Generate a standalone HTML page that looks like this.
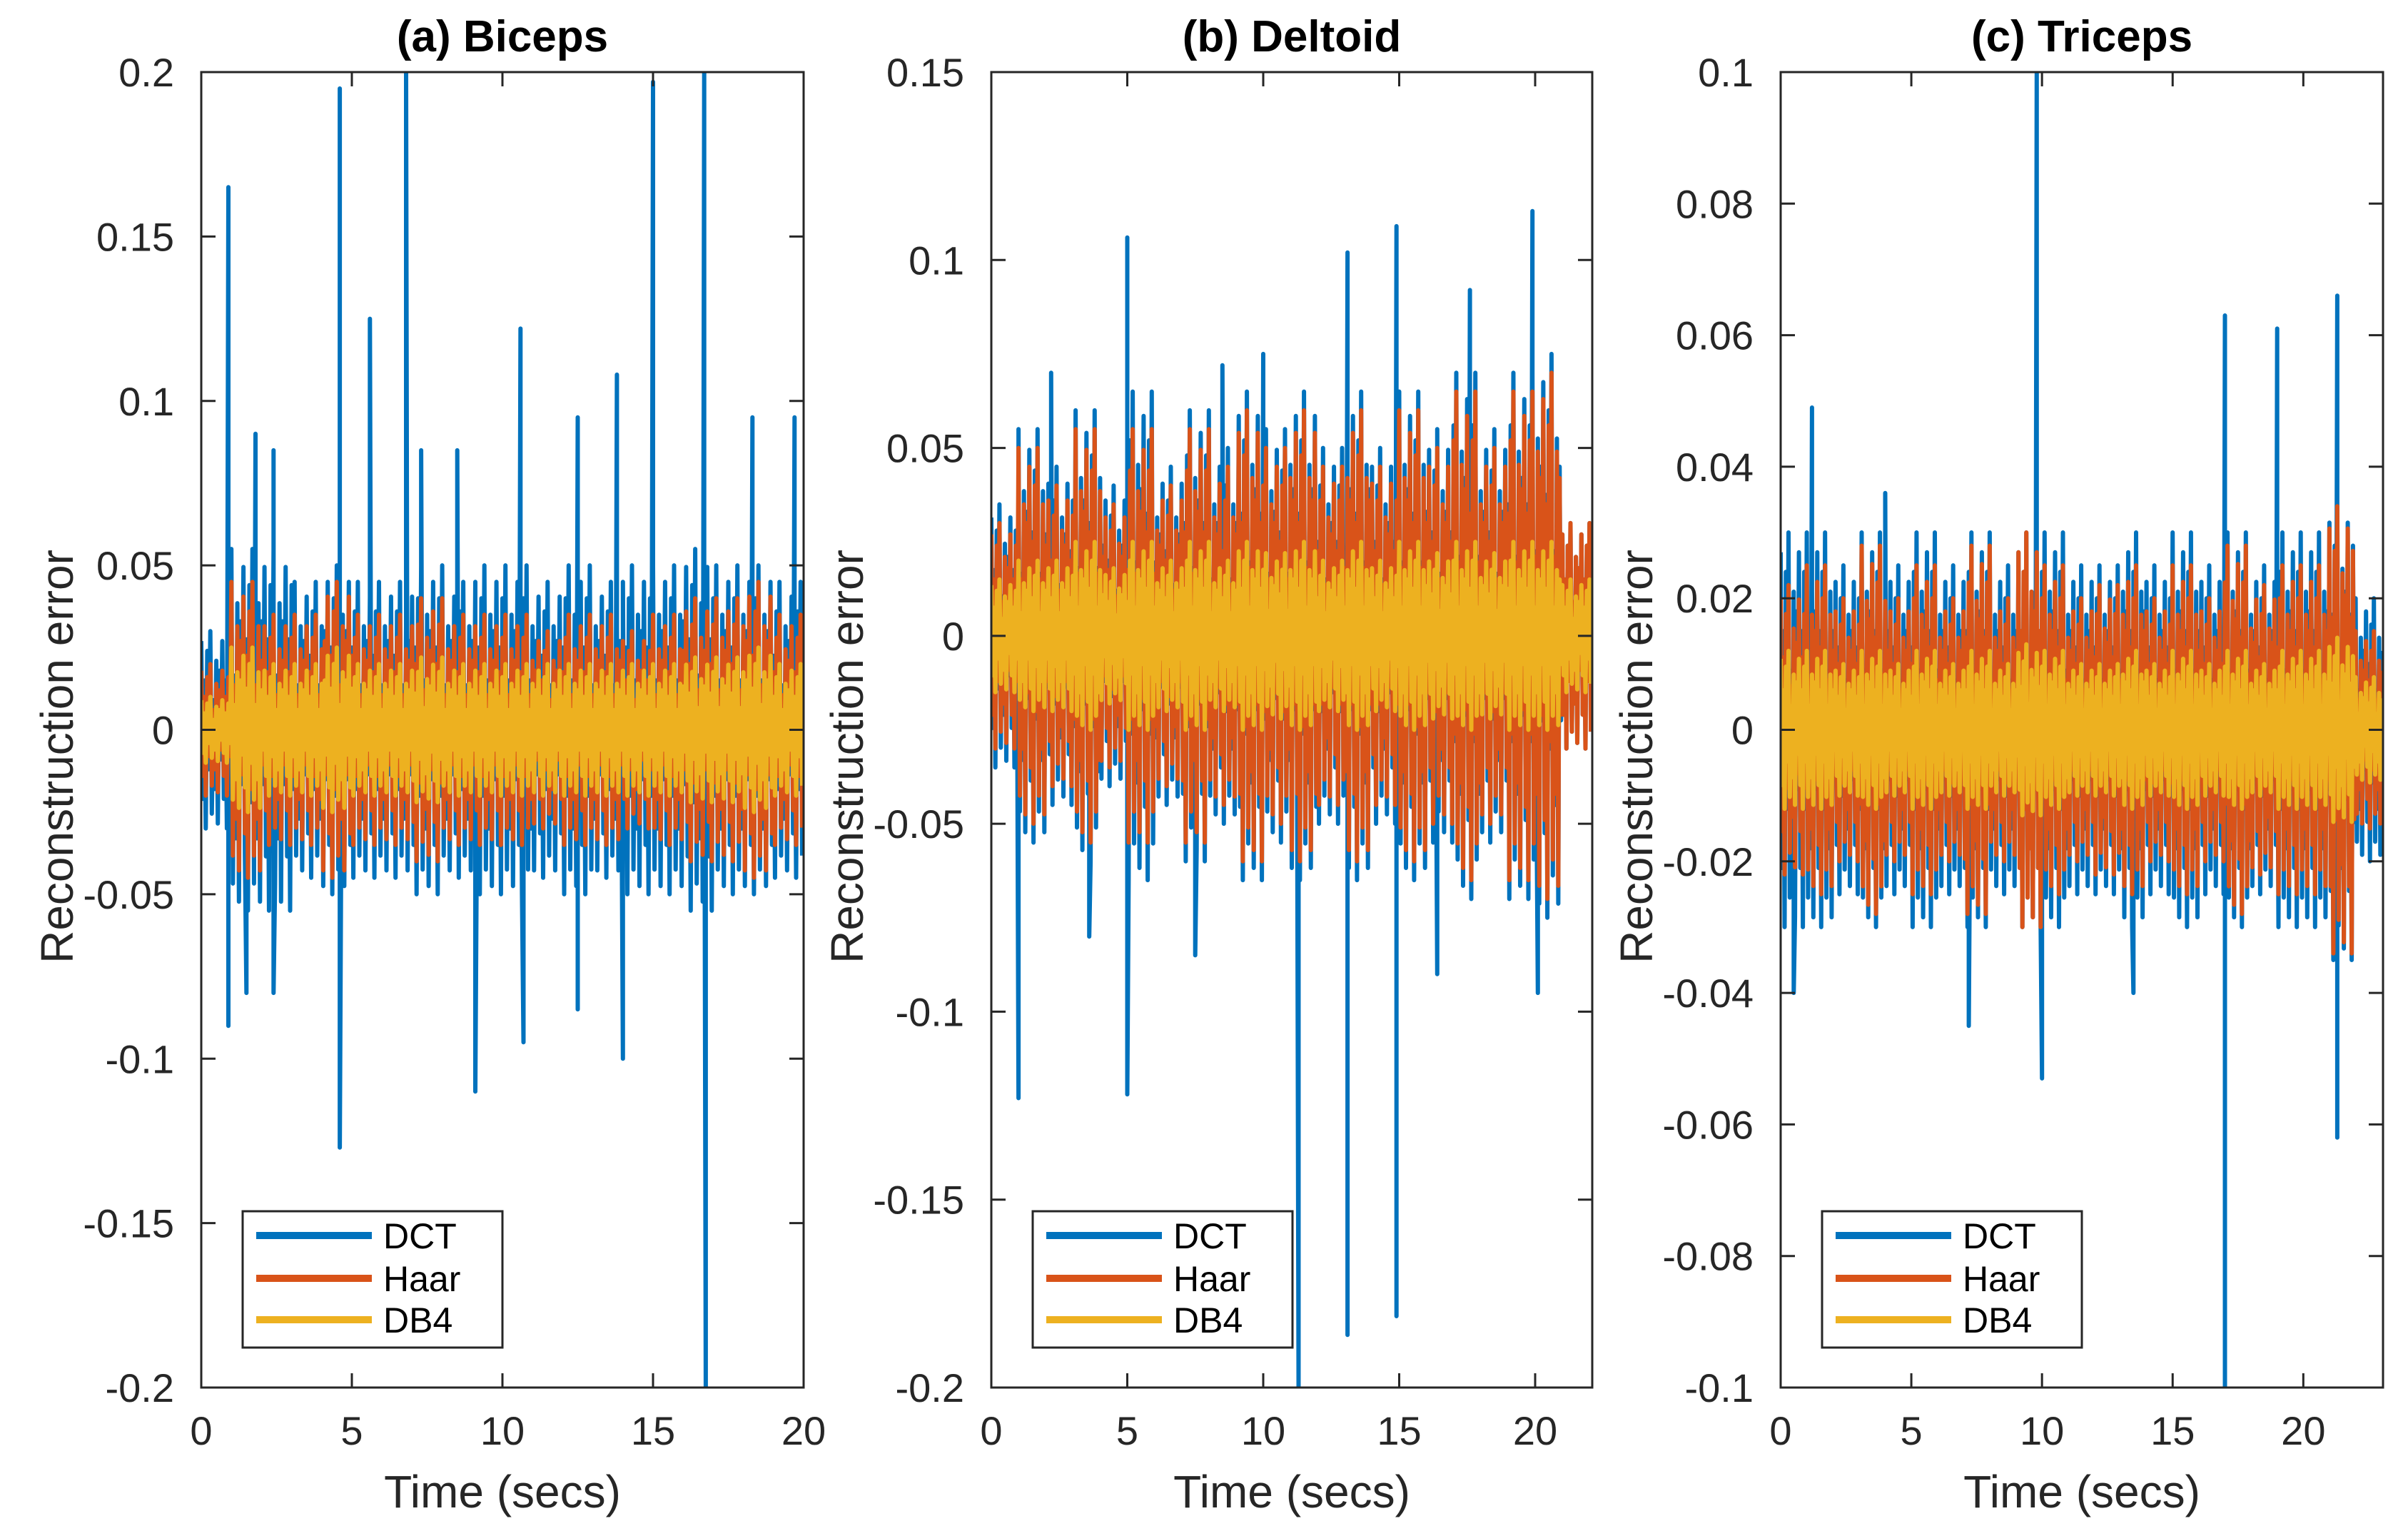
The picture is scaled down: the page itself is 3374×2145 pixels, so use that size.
<!DOCTYPE html>
<html><head><meta charset="utf-8"><style>
html,body{margin:0;padding:0;background:#fff;}
svg{display:block;font-family:"Liberation Sans",Arial,sans-serif;}
</style></head><body>
<svg id="fig" width="3374" height="2145" viewBox="0 0 3374 2145" xmlns="http://www.w3.org/2000/svg"></svg>
<script>
// ---- data ----
const seriesNames = ["DCT","Haar","DB4"];
const seriesColors = ["#0072BD","#D95319","#EDB120"];
const titles = ["(a) Biceps","(b) Deltoid","(c) Triceps"];
const xTicks = [0,5,10,15,20];
const yTicksA = [-0.2,-0.15,-0.1,-0.05,0,0.05,0.1,0.15,0.2];
const yTicksB = [-0.2,-0.15,-0.1,-0.05,0,0.05,0.1,0.15];
const yTicksC = [-0.1,-0.08,-0.06,-0.04,-0.02,0,0.02,0.04,0.06,0.08,0.1];
const yLabelsA = ["-0.2","-0.15","-0.1","-0.05","0","0.05","0.1","0.15","0.2"];
const yLabelsB = ["-0.2","-0.15","-0.1","-0.05","0","0.05","0.1","0.15"];
const yLabelsC = ["-0.1","-0.08","-0.06","-0.04","-0.02","0","0.02","0.04","0.06","0.08","0.1"];
const xMaxA = 20, xMaxB = 22.1, xMaxC = 23.05;
// envelope amplitude per 1-second bin
const envA_DCT  = [0.03,0.055,0.055,0.045,0.05,0.045,0.045,0.05,0.045,0.05,0.05,0.045,0.05,0.045,0.05,0.05,0.055,0.05,0.05,0.045];
const envA_Haar = [0.02,0.045,0.035,0.035,0.045,0.035,0.035,0.04,0.035,0.035,0.035,0.03,0.035,0.035,0.03,0.035,0.04,0.04,0.045,0.035];
const envA_DB4  = [0.01,0.025,0.02,0.02,0.025,0.02,0.02,0.022,0.02,0.02,0.02,0.02,0.02,0.02,0.02,0.02,0.022,0.022,0.025,0.02];
const envB_DCT  = [0.035,0.055,0.045,0.06,0.04,0.065,0.045,0.06,0.05,0.065,0.055,0.065,0.05,0.065,0.05,0.065,0.055,0.07,0.055,0.07,0.075,0.03,0.03];
const envB_Haar = [0.03,0.05,0.04,0.055,0.035,0.055,0.04,0.055,0.045,0.06,0.05,0.06,0.045,0.06,0.045,0.06,0.05,0.065,0.05,0.065,0.07,0.03,0.03];
const envB_DB4  = [0.015,0.02,0.02,0.025,0.018,0.025,0.02,0.025,0.02,0.025,0.022,0.025,0.02,0.025,0.02,0.025,0.022,0.025,0.022,0.025,0.025,0.015,0.015];
const envC_DCT  = [0.03,0.03,0.025,0.03,0.025,0.03,0.025,0.03,0.025,0.03,0.03,0.025,0.025,0.03,0.025,0.03,0.025,0.03,0.025,0.03,0.03,0.035,0.02,0.02];
const envC_Haar = [0.022,0.025,0.02,0.028,0.02,0.025,0.02,0.028,0.02,0.03,0.025,0.02,0.022,0.025,0.02,0.025,0.02,0.028,0.022,0.025,0.025,0.034,0.015,0.015];
const envC_DB4  = [0.012,0.012,0.01,0.012,0.01,0.012,0.01,0.012,0.01,0.013,0.012,0.01,0.01,0.012,0.01,0.012,0.01,0.012,0.01,0.012,0.012,0.014,0.008,0.008];
// DCT spikes: times and values
const spikeA_t = [0.9,0.9,1.5,1.8,2.4,2.4,4.6,4.6,5.6,6.8,7.3,8.5,9.1,10.6,10.7,12.5,12.5,13.8,14.0,15.0,16.7,16.75,18.3,19.7];
const spikeA_v = [0.165,-0.09,-0.08,0.09,0.085,-0.08,0.195,-0.127,0.125,0.2,0.085,0.085,-0.11,0.122,-0.095,0.095,-0.085,0.108,-0.1,0.197,0.2,-0.2,0.095,0.095];
const spikeB_t = [1.0,2.2,3.6,5.0,5.0,7.5,8.5,10.0,11.3,13.1,13.1,14.9,14.9,16.4,17.6,19.9,20.1];
const spikeB_v = [-0.123,0.07,-0.08,0.106,-0.122,-0.085,0.072,0.075,-0.2,0.102,-0.186,0.109,-0.181,-0.09,0.092,0.113,-0.095];
const spikeC_t = [0.5,1.2,4.0,7.2,9.8,10.0,13.5,17.0,17.0,19.0,21.3,21.3];
const spikeC_v = [-0.04,0.049,0.036,-0.045,0.1,-0.053,-0.04,0.063,-0.1,0.061,0.066,-0.062];

// ---- layout ----
const NS = "http://www.w3.org/2000/svg";
const svg = document.getElementById("fig");
const pat = [0.9,-0.7,0.5,-1,0.8,-0.4,1,-0.85,0.3,-0.6,0.7,-0.95,0.6,-0.3];
const panels = [
  {left:282,right:1126,xMax:xMaxA,yMin:-0.2,yMax:0.2,yTicks:yTicksA,yLabels:yLabelsA,env:[envA_DCT,envA_Haar,envA_DB4],st:spikeA_t,sv:spikeA_v,name:"biceps"},
  {left:1389,right:2231,xMax:xMaxB,yMin:-0.2,yMax:0.15,yTicks:yTicksB,yLabels:yLabelsB,env:[envB_DCT,envB_Haar,envB_DB4],st:spikeB_t,sv:spikeB_v,name:"deltoid"},
  {left:2495,right:3339,xMax:xMaxC,yMin:-0.1,yMax:0.1,yTicks:yTicksC,yLabels:yLabelsC,env:[envC_DCT,envC_Haar,envC_DB4],st:spikeC_t,sv:spikeC_v,name:"triceps"}
];
const TOP = 101, BOT = 1944;
function mk(tag, attrs, parent){const e=document.createElementNS(NS,tag);for(const k in attrs)e.setAttribute(k,attrs[k]);(parent||svg).appendChild(e);return e;}

panels.forEach((p, pi) => {
  const g = mk("g", {});
  
  
  const xs = v => p.left + (v / p.xMax) * (p.right - p.left);
  const ys = v => BOT - (v - p.yMin) / (p.yMax - p.yMin) * (BOT - TOP);
  const clip = mk("clipPath", {id:"clip"+pi}, g);
  mk("rect", {x:p.left, y:TOP, width:p.right-p.left, height:BOT-TOP}, clip);
  const plot = mk("g", {"clip-path":"url(#clip"+pi+")"}, g);
  for (let s = 0; s < 3; s++) {
    const env = p.env[s];
    let pts = [];
    let i = 0;
    for (let t = 0; t <= p.xMax; t += 0.05, i++) {
      const a = env[Math.min(env.length-1, Math.floor(t))];
      pts.push([t, a * pat[i % pat.length]]);
    }
    if (s === 0) {
      for (let k = 0; k < p.st.length; k++) pts.push([p.st[k], p.sv[k]]);
      pts.sort((a,b)=>a[0]-b[0]);
    }
    const d = pts.map((q,j)=>(j?"L":"M")+xs(q[0]).toFixed(1)+","+ys(q[1]).toFixed(1)).join("");
    const path = mk("path", {d:d, fill:"none", stroke:seriesColors[s], "stroke-width":6, "stroke-linejoin":"round"}, plot);
    
    
  }
  const box = mk("rect", {x:p.left, y:TOP, width:p.right-p.left, height:BOT-TOP, fill:"none", stroke:"#262626", "stroke-width":3}, g);
  
  
  xTicks.forEach(v => {
    const x = xs(v);
    mk("line", {x1:x, y1:BOT, x2:x, y2:BOT-20, stroke:"#262626","stroke-width":3}, g);
    mk("line", {x1:x, y1:TOP, x2:x, y2:TOP+20, stroke:"#262626","stroke-width":3}, g);
    const t = mk("text", {x:x, y:BOT+80, "text-anchor":"middle","font-size":56, fill:"#262626"}, g);
    t.textContent = v;
    
    
  });
  p.yTicks.forEach((v, k) => {
    const y = ys(v);
    mk("line", {x1:p.left, y1:y, x2:p.left+20, y2:y, stroke:"#262626","stroke-width":3}, g);
    mk("line", {x1:p.right, y1:y, x2:p.right-20, y2:y, stroke:"#262626","stroke-width":3}, g);
    const t = mk("text", {x:p.left-38, y:y+20, "text-anchor":"end","font-size":56, fill:"#262626"}, g);
    t.textContent = p.yLabels[k];
    
    
  });
  const ti = mk("text", {x:(p.left+p.right)/2, y:72, "text-anchor":"middle","font-size":62,"font-weight":"bold", fill:"#000"}, g);
  ti.textContent = titles[pi];
  
  
  const xl = mk("text", {x:(p.left+p.right)/2, y:2112, "text-anchor":"middle","font-size":64, fill:"#262626"}, g);
  xl.textContent = "Time (secs)";
  
  
  const yx = p.left - 180, yy = 1060;
  const yl = mk("text", {x:yx, y:yy, "text-anchor":"middle","font-size":64, fill:"#262626", transform:"rotate(-90 "+yx+" "+yy+")"}, g);
  yl.textContent = "Reconstruction error";
  
  
  const lx = p.left + 58;
  const lg = mk("g", {}, g);
  
  
  mk("rect", {x:lx, y:1697, width:364, height:191, fill:"#fff", stroke:"#262626","stroke-width":3}, lg);
  const rows = [1731,1791,1849];
  seriesNames.forEach((n, s) => {
    const e = mk("g", {}, lg);
    
    
    mk("line", {x1:lx+19, y1:rows[s], x2:lx+181, y2:rows[s], stroke:seriesColors[s], "stroke-width":10}, e);
    const t = mk("text", {x:lx+197, y:rows[s]+18, "font-size":50, fill:"#000"}, e);
    t.textContent = n;
  });
});
</script>
</body></html>
